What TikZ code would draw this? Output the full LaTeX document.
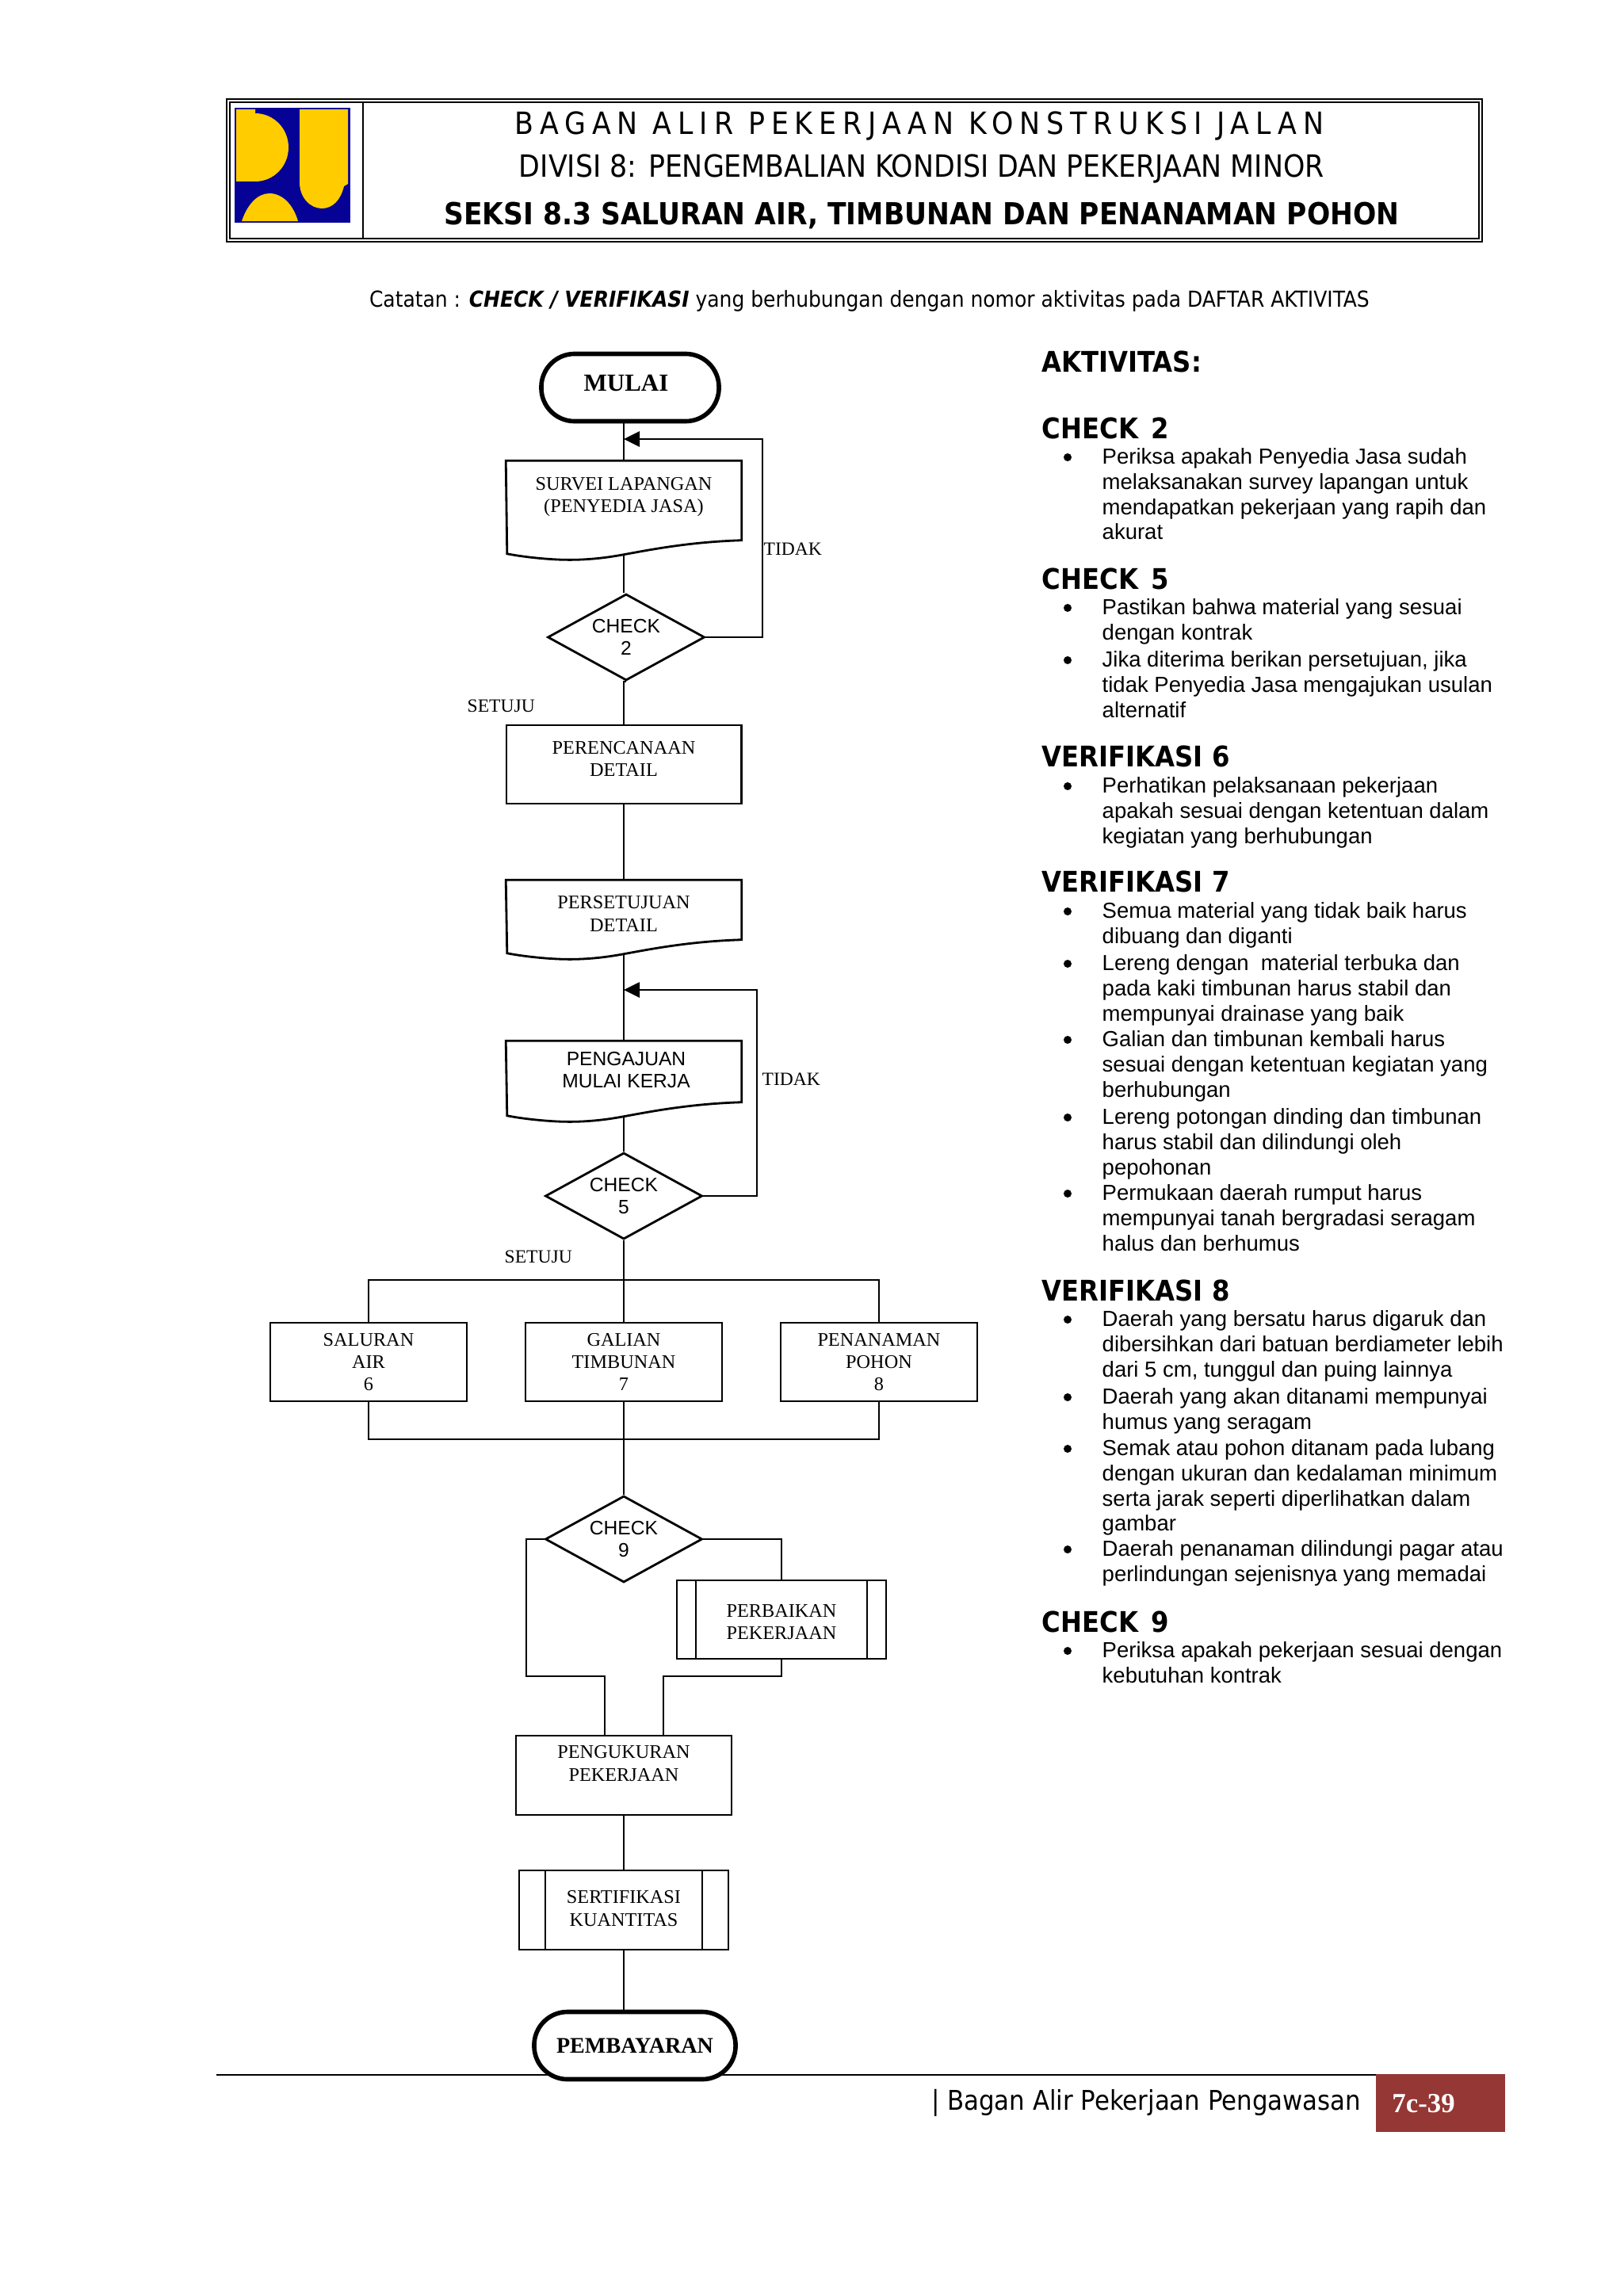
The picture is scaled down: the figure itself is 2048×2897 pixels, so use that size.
\documentclass[tikz,border=0pt]{standalone}
\usepackage{fontspec}
\setmainfont{Liberation Serif}
\setsansfont{Liberation Sans}
\newfontfamily\headfont{DejaVu Sans Condensed}
\usetikzlibrary{arrows.meta,shapes.geometric}
\definecolor{logoBlue}{RGB}{6,2,150}
\definecolor{logoYellow}{RGB}{255,204,0}
\definecolor{footerRed}{RGB}{149,55,53}
\newcommand{\docoutline}[1]{\draw[link,shift={(#1.south east)}]
  (#1.north west) -- (#1.north east) -- (0,-18)
  .. controls (-66,-16) and (-116,-6) .. (-149,0)
  .. controls (-181,6) and (-206,7) .. (-226,6.5)
  .. controls (-246,6) and (-276,3) .. (-296,-1) -- cycle;}
\begin{document}
\begin{tikzpicture}[x=.01cm,y=-.01cm,
    link/.style={line width=.8pt, line join=miter},
    boxtext/.style={font=\fontsize{6.9}{8}\selectfont\rmfamily, align=center, inner sep=0pt},
    checktext/.style={font=\fontsize{7}{7.8}\selectfont\sffamily, align=center, inner sep=0pt},
    sidetext/.style={font=\fontsize{6.7}{8}\selectfont\rmfamily, inner sep=0pt},
    procbox/.style={draw, line width=.8pt, boxtext},
    subproc/.style={procbox, path picture={
      \draw[line width=.8pt] ([xshift=#1]path picture bounding box.north west) -- ([xshift=#1]path picture bounding box.south west);
      \draw[line width=.8pt] ([xshift=-#1]path picture bounding box.north east) -- ([xshift=-#1]path picture bounding box.south east);}},
    docbox/.style={inner sep=0pt, minimum width=2.96cm},
    decision/.style={draw, diamond, line width=.8pt, shape aspect=1.8, inner sep=0pt,
      minimum width=1.98cm, minimum height=1.09cm, checktext},
    terminal/.style={draw, line width=1.6pt, fill=white, rounded corners=.42cm,
      minimum height=.85cm, inner sep=0pt, align=center},
    heading/.style={font=\fontsize{10.2}{11}\selectfont\headfont\bfseries, anchor=west, inner sep=0pt},
    itemtext/.style={font=\fontsize{7.82}{9.03}\selectfont\sffamily, align=left, anchor=north west,
      inner sep=0pt, yshift=-.04cm},
    itemdot/.style={circle, fill=black, minimum size=.1cm, inner sep=0pt},
    titletext/.style={font=\fontsize{11}{12}\selectfont\headfont, inner sep=0pt}]
  \useasboundingbox (0,0) rectangle (2048,2897);
  \fill[white] (0,0) rectangle (2048,2897);

  % header frame and logo
  \draw[line width=.8pt] (286,125) rectangle (1870,305);
  \draw[line width=.8pt] (290,129) rectangle (1866,301);
  \draw[line width=.8pt] (458,129) -- (458,301);
  \fill[logoBlue] (296,136) rectangle (442,281);
  \fill[logoYellow] (298,138) -- (322,138) -- (322,143)
    .. controls (345,143) and (364,162) .. (364,186)
    .. controls (364,210) and (345,229) .. (322,229)
    .. controls (312,229) and (305,229) .. (298,229) -- cycle;
  \fill[logoYellow] (378,138) -- (439,138) -- (439,232) -- (434,235)
    .. controls (430,252) and (420,263) .. (406,263)
    .. controls (392,263) and (378,250) .. (378,230) -- cycle;
  \fill[logoYellow] (305,279) .. controls (312,258) and (325,244) .. (340,244)
    .. controls (356,244) and (370,258) .. (376,279) -- cycle;

  \node[titletext] (titleone) at (1160,159) {\addfontfeatures{LetterSpace=20.5}BAGAN ALIR PEKERJAAN KONSTRUKSI JALAN};
  \node[titletext] (titletwo) at (1163,213) {DIVISI 8: PENGEMBALIAN KONDISI DAN PEKERJAAN MINOR};
  \node[titletext, font=\fontsize{10.9}{12}\selectfont\headfont\bfseries] (titlethree) at (1163,272)
    {SEKSI 8.3 SALURAN AIR, TIMBUNAN DAN PENANAMAN POHON};
  \node[font=\fontsize{7.9}{10}\selectfont\headfont, inner sep=0pt] (catatan) at (1097,380)
    {Catatan : {\bfseries\itshape CHECK / VERIFIKASI} yang berhubungan dengan nomor aktivitas pada DAFTAR AKTIVITAS};

  % footer
  \draw[link] (273,2618) -- (1744,2618);
  \fill[footerRed] (1736,2617) rectangle (1899,2690);
  \node[font=\fontsize{9.75}{11}\selectfont\headfont, anchor=east, inner sep=0pt] (footertext) at (1718,2653)
    {| Bagan Alir Pekerjaan Pengawasan};
  \node[font=\fontsize{9.9}{11}\selectfont\rmfamily\bfseries, text=white, inner sep=0pt] (pagenum) at (1796,2654) {7c-39};

  % flow, top to bottom
  \node[terminal, minimum width=2.24cm, font=\fontsize{8.8}{10}\selectfont\rmfamily\bfseries] (mulai) at (795,489) {\raisebox{3pt}{MULAI}\kern.1cm};
  \node[docbox, minimum height=1.17cm] (survei) at (787,640.5) {};
  \docoutline{survei}
  \node[boxtext] (surveitext) at (787,627) {SURVEI LAPANGAN\\(PENYEDIA JASA)};
  \node[decision] (checktwo) at (790,804) {CHECK\\2};
  \node[sidetext, anchor=west] (tidakone) at (963,693) {TIDAK};
  \node[sidetext, anchor=west] (setujuone) at (589,891) {SETUJU};
  \node[procbox, minimum width=2.96cm, minimum height=.99cm] (perencanaan) at (787,964.5) {};
  \node[boxtext] (perencanaantext) at (787,957.5) {PERENCANAAN\\DETAIL};
  \node[docbox, minimum height=.92cm] (persetujuan) at (787,1157) {};
  \docoutline{persetujuan}
  \node[boxtext] (persetujuantext) at (787,1153) {PERSETUJUAN\\DETAIL};
  \node[docbox, minimum height=.94cm] (pengajuan) at (787,1361) {};
  \docoutline{pengajuan}
  \node[checktext] (pengajuantext) at (790,1350) {PENGAJUAN\\MULAI KERJA};
  \node[decision] (checkfive) at (787,1509) {CHECK\\5};
  \node[sidetext, anchor=west] (tidaktwo) at (961,1362) {TIDAK};
  \node[sidetext, anchor=west] (setujutwo) at (636,1586) {SETUJU};
  \node[procbox, minimum width=2.48cm, minimum height=.99cm] (saluran) at (465,1718.5) {SALURAN\\AIR\\6};
  \node[procbox, minimum width=2.48cm, minimum height=.99cm] (galian) at (787,1718.5) {GALIAN\\TIMBUNAN\\7};
  \node[procbox, minimum width=2.48cm, minimum height=.99cm] (penanaman) at (1109,1718.5) {PENANAMAN\\POHON\\8};
  \node[decision] (checknine) at (787,1942) {CHECK\\9};
  \node[procbox, minimum width=2.64cm, minimum height=.99cm, subproc=.24cm] (perbaikan) at (986,2043.5) {};
  \node[boxtext] (perbaikantext) at (986,2047) {PERBAIKAN\\PEKERJAAN};
  \node[procbox, minimum width=2.72cm, minimum height=1cm] (pengukuran) at (787,2240) {};
  \node[boxtext] (pengukurantext) at (787,2225) {PENGUKURAN\\PEKERJAAN};
  \node[procbox, subproc=.33cm, minimum width=2.64cm, minimum height=1cm] (sertifikasi) at (787,2410) {};
  \node[boxtext] (sertifikasitext) at (787,2408) {SERTIFIKASI\\KUANTITAS};
  \node[terminal, minimum width=2.54cm, font=\fontsize{8}{10}\selectfont\rmfamily\bfseries] (pembayaran) at (801,2581) {PEMBAYARAN};

  \coordinate (loopone) at (962,554);
  \coordinate (looptwo) at (955,1249);
  \coordinate (bustop) at (787,1615);
  \coordinate (busbottom) at (787,1816);
  \coordinate (jogleft) at (664,2115);
  \coordinate (jogright) at (837,2115);
  \coordinate (pengleft) at (763,2190);
  \coordinate (pengright) at (837,2190);

  \draw[link] (mulai.south -| survei.north) -- (survei.north);
  \draw[link] (survei.south) -- (survei.south |- checktwo.north);
  \draw[link] (checktwo.south) -- (checktwo.south -| perencanaan.north) -- (perencanaan.north);
  \draw[link] (perencanaan.south) -- (persetujuan.north);
  \draw[link] (persetujuan.south) -- (pengajuan.north);
  \draw[link] (pengajuan.south) -- (checkfive.north);
  \draw[link, -{Triangle[length=.2cm,width=.19cm]}] (checktwo.east) -| (loopone) -- (loopone -| survei.north);
  \draw[link, -{Triangle[length=.2cm,width=.19cm]}] (checkfive.east) -| (looptwo) -- (looptwo -| pengajuan.north);
  \draw[link] (checkfive.south) -- (galian.north);
  \draw[link] (saluran.north) |- (bustop) -| (penanaman.north);
  \draw[link] (saluran.south) |- (busbottom) -| (penanaman.south);
  \draw[link] (galian.south) -- (checknine.north);
  \draw[link] (checknine.west) -| (jogleft) -| (pengleft);
  \draw[link] (checknine.east) -| (perbaikan.north);
  \draw[link] (perbaikan.south) |- (jogright) -- (pengright);
  \draw[link] (pengukuran.south) -- (sertifikasi.north);
  \draw[link] (sertifikasi.south) -- (sertifikasi.south |- pembayaran.north);

  % activity list
  \node[heading] (aktivitas) at (1314,456) {AKTIVITAS:};

  \node[heading] (checktwohead) at (1314,540) {CHECK\ \hspace{.15em}2};
  \node[itemdot] (dota) at (1347,577) {};
  \node[itemtext] (itema) at (1390,561) {Periksa apakah Penyedia Jasa sudah\\melaksanakan survey lapangan untuk\\mendapatkan pekerjaan yang rapih dan\\akurat};

  \node[heading] (checkfivehead) at (1314,730) {CHECK\ \hspace{.15em}5};
  \node[itemdot] (dotb) at (1347,767) {};
  \node[itemtext] (itemb) at (1390,751) {Pastikan bahwa material yang sesuai\\dengan kontrak};
  \node[itemdot] (dotc) at (1347,833) {};
  \node[itemtext] (itemc) at (1390,817) {Jika diterima berikan persetujuan, jika\\tidak Penyedia Jasa mengajukan usulan\\alternatif};

  \node[heading] (versixhead) at (1314,954) {VERIFIKASI 6};
  \node[itemdot] (dotd) at (1347,992) {};
  \node[itemtext] (itemd) at (1390,976) {Perhatikan pelaksanaan pekerjaan\\apakah sesuai dengan ketentuan dalam\\kegiatan yang berhubungan};

  \node[heading] (versevenhead) at (1314,1112) {VERIFIKASI 7};
  \node[itemdot] (dote) at (1347,1150) {};
  \node[itemtext] (iteme) at (1390,1134) {Semua material yang tidak baik harus\\dibuang dan diganti};
  \node[itemdot] (dotf) at (1347,1216) {};
  \node[itemtext] (itemf) at (1390,1200) {Lereng dengan\ \ material terbuka dan\\pada kaki timbunan harus stabil dan\\mempunyai drainase yang baik};
  \node[itemdot] (dotg) at (1347,1312) {};
  \node[itemtext] (itemg) at (1390,1296) {Galian dan timbunan kembali harus\\sesuai dengan ketentuan kegiatan yang\\berhubungan};
  \node[itemdot] (doth) at (1347,1410) {};
  \node[itemtext] (itemh) at (1390,1394) {Lereng potongan dinding dan timbunan\\harus stabil dan dilindungi oleh\\pepohonan};
  \node[itemdot] (doti) at (1347,1506) {};
  \node[itemtext] (itemi) at (1390,1490) {Permukaan daerah rumput harus\\mempunyai tanah bergradasi seragam\\halus dan berhumus};

  \node[heading] (vereighthead) at (1314,1628) {VERIFIKASI 8};
  \node[itemdot] (dotj) at (1347,1665) {};
  \node[itemtext] (itemj) at (1390,1649) {Daerah yang bersatu harus digaruk dan\\dibersihkan dari batuan berdiameter lebih\\dari 5 cm, tunggul dan puing lainnya};
  \node[itemdot] (dotk) at (1347,1763) {};
  \node[itemtext] (itemk) at (1390,1747) {Daerah yang akan ditanami mempunyai\\humus yang seragam};
  \node[itemdot] (dotl) at (1347,1828) {};
  \node[itemtext] (iteml) at (1390,1812) {Semak atau pohon ditanam pada lubang\\dengan ukuran dan kedalaman minimum\\serta jarak seperti diperlihatkan dalam\\gambar};
  \node[itemdot] (dotm) at (1347,1955) {};
  \node[itemtext] (itemm) at (1390,1939) {Daerah penanaman dilindungi pagar atau\\perlindungan sejenisnya yang memadai};

  \node[heading] (checkninehead) at (1314,2046) {CHECK\ \hspace{.15em}9};
  \node[itemdot] (dotn) at (1347,2083) {};
  \node[itemtext] (itemn) at (1390,2067) {Periksa apakah pekerjaan sesuai dengan\\kebutuhan kontrak};
\end{tikzpicture}
\end{document}
